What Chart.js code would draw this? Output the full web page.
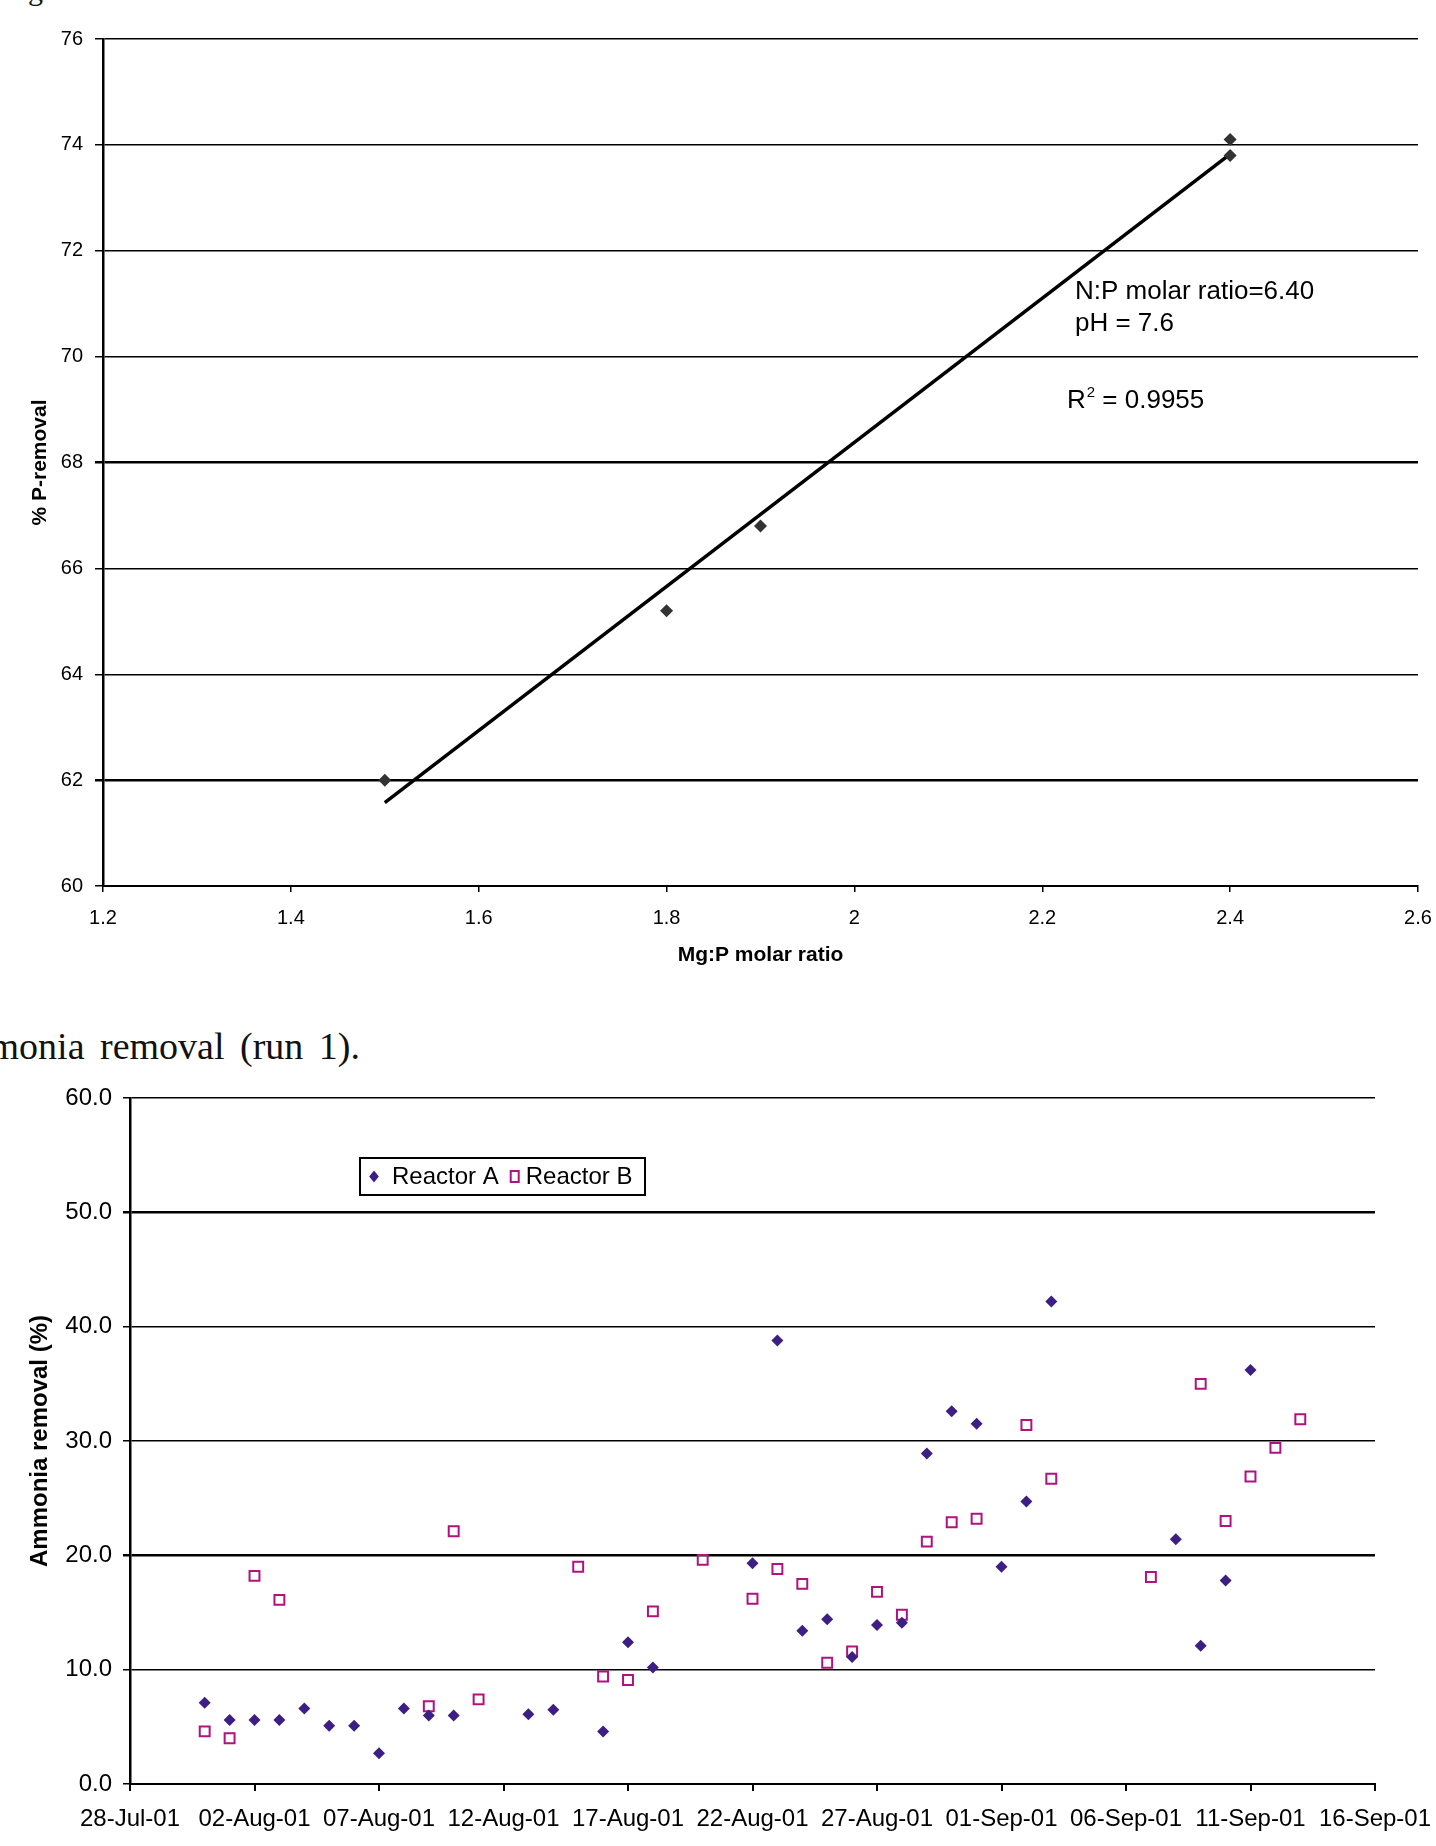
<!DOCTYPE html>
<html>
<head>
<meta charset="utf-8">
<script src="https://cdn.jsdelivr.net/npm/chart.js@4.4.0/dist/chart.umd.min.js"></script>
<style>
  html, body { margin: 0; padding: 0; background: #fff; }
  body { width: 1436px; height: 1846px; position: relative; overflow: hidden; }
  #wrapTop { position: absolute; left: 0; top: 0; width: 1436px; height: 1000px; }
  #wrapBottom { position: absolute; left: 0; top: 1070px; width: 1436px; height: 776px; }
  .caption { position: absolute; font-family: 'Liberation Serif', 'Times New Roman', serif; white-space: nowrap; color: #111; }
</style>
</head>
<body>
<div class="caption" style="left:3px; top:-25px; font-size:30px; line-height:30px;">Fig</div>
<div class="caption" style="right:1076px; top:1027px; font-size:38px; line-height:38px; word-spacing:6px;">Ammonia removal (run 1).</div>
<div id="wrapTop"><canvas id="topChart" width="1436" height="1000"></canvas></div>
<div id="wrapBottom"><canvas id="bottomChart" width="1436" height="776"></canvas></div>
<script>
// --- top chart data: P-removal vs Mg:P molar ratio
const mgRatio = [1.5, 1.8, 1.9, 2.4, 2.4];
const pRemoval = [62.0, 65.2, 66.8, 74.1, 73.8];
const noteLines = ['N:P molar ratio=6.40', 'pH = 7.6'];
const rSquared = '0.9955';

// --- bottom chart data: ammonia removal (run 1)
const datesA = ['2001-07-31', '2001-08-01', '2001-08-02', '2001-08-03', '2001-08-04', '2001-08-05',
  '2001-08-06', '2001-08-07', '2001-08-08', '2001-08-09', '2001-08-10', '2001-08-13', '2001-08-14',
  '2001-08-16', '2001-08-17', '2001-08-18', '2001-08-22', '2001-08-23', '2001-08-24', '2001-08-25',
  '2001-08-26', '2001-08-27', '2001-08-28', '2001-08-29', '2001-08-30', '2001-08-31', '2001-09-01',
  '2001-09-02', '2001-09-03', '2001-09-08', '2001-09-09', '2001-09-10', '2001-09-11'];
const reactorA = [7.1, 5.6, 5.6, 5.6, 6.6, 5.1, 5.1, 2.7, 6.6, 6.0, 6.0, 6.1, 6.5,
  4.6, 12.4, 10.2, 19.3, 38.8, 13.4, 14.4, 11.1, 13.9, 14.1, 28.9, 32.6, 31.5, 19.0,
  24.7, 42.2, 21.4, 12.1, 17.8, 36.2];
const datesB = ['2001-07-31', '2001-08-01', '2001-08-02', '2001-08-03', '2001-08-09', '2001-08-10',
  '2001-08-11', '2001-08-15', '2001-08-16', '2001-08-17', '2001-08-18', '2001-08-20', '2001-08-22',
  '2001-08-23', '2001-08-24', '2001-08-25', '2001-08-26', '2001-08-27', '2001-08-28', '2001-08-29',
  '2001-08-30', '2001-08-31', '2001-09-02', '2001-09-03', '2001-09-07', '2001-09-09', '2001-09-10',
  '2001-09-11', '2001-09-12', '2001-09-13'];
const reactorB = [4.6, 4.0, 18.2, 16.1, 6.8, 22.1, 7.4, 19.0, 9.4, 9.1, 15.1, 19.6, 16.2,
  18.8, 17.5, 10.6, 11.6, 16.8, 14.8, 21.2, 22.9, 23.2, 31.4, 26.7, 18.1, 35.0, 23.0,
  26.9, 29.4, 31.9];

const FONT = '"Liberation Sans", Arial, sans-serif';
Chart.defaults.font.family = FONT;
Chart.defaults.color = '#000';

// least squares trend line through the top chart points
function fitLine(xs, ys) {
  const n = xs.length;
  const mx = xs.reduce((a, b) => a + b, 0) / n;
  const my = ys.reduce((a, b) => a + b, 0) / n;
  let sxy = 0, sxx = 0;
  xs.forEach((x, i) => { sxy += (x - mx) * (ys[i] - my); sxx += (x - mx) * (x - mx); });
  const slope = sxy / sxx;
  return x => my + slope * (x - mx);
}
const trend = fitLine(mgRatio, pRemoval);
const xMin = Math.min(...mgRatio), xMax = Math.max(...mgRatio);

// keep the plot edges where the layout padding puts them
function fixX(height) {
  return s => { s.height = height; s.paddingLeft = 0; s.paddingRight = 0; };
}

const topNotes = {
  id: 'topNotes',
  afterDatasetsDraw(chart) {
    const ctx = chart.ctx;
    ctx.save();
    ctx.fillStyle = '#000';
    ctx.textBaseline = 'alphabetic';
    ctx.font = '26px ' + FONT;
    ctx.fillText(noteLines[0], 1075, 299);
    ctx.fillText(noteLines[1], 1075, 331);
    ctx.fillText('R', 1067, 408);
    let x = 1067 + ctx.measureText('R').width + 1;
    ctx.font = '15px ' + FONT;
    ctx.fillText('2', x, 397);
    x += ctx.measureText('2').width;
    ctx.font = '26px ' + FONT;
    ctx.fillText(' = ' + rSquared, x, 408);
    ctx.restore();
  }
};

new Chart(document.getElementById('topChart'), {
  type: 'scatter',
  data: {
    datasets: [{
      label: 'P-removal',
      data: mgRatio.map((x, i) => ({ x: x, y: pRemoval[i] })),
      pointStyle: 'rectRot',
      pointRadius: 6.5,
      backgroundColor: '#333',
      borderColor: '#333',
      borderWidth: 0
    }, {
      type: 'line',
      label: 'Linear',
      data: [{ x: xMin, y: trend(xMin) }, { x: xMax, y: trend(xMax) }],
      borderColor: '#000',
      borderWidth: 3.5,
      pointRadius: 0,
      fill: false
    }]
  },
  options: {
    responsive: false,
    animation: false,
    events: [],
    layout: { padding: { left: 0, top: 39, right: 18, bottom: 0 } },
    plugins: { legend: { display: false }, tooltip: { enabled: false } },
    scales: {
      x: {
        type: 'linear',
        min: 1.2, max: 2.6,
        afterFit: fixX(114),
        ticks: { stepSize: 0.2, padding: 14, font: { size: 20 }, callback: v => String(+v.toFixed(1)) },
        grid: { drawOnChartArea: false, tickLength: 6, color: '#000', lineWidth: 1.5 },
        border: { color: '#000', width: 2 },
        title: { display: true, text: 'Mg:P molar ratio', font: { size: 21, weight: 'bold' }, padding: { top: 0, bottom: 32 } }
      },
      y: {
        min: 60, max: 76,
        afterFit: s => { s.width = 103; },
        ticks: { stepSize: 2, padding: 12, font: { size: 20 } },
        grid: {
          color: '#000', tickLength: 8,
          lineWidth: c => (c.tick && (c.tick.value === 62 || c.tick.value === 68)) ? 2.5 : 1.5
        },
        border: { color: '#000', width: 2.5 },
        title: { display: true, text: '% P-removal', font: { size: 21, weight: 'bold' }, padding: { top: 28, bottom: 0 } }
      }
    }
  },
  plugins: [topNotes]
});

// --- bottom chart
const START = Date.UTC(2001, 6, 28);
const DAY = 86400000;
const MONTHS = ['Jan', 'Feb', 'Mar', 'Apr', 'May', 'Jun', 'Jul', 'Aug', 'Sep', 'Oct', 'Nov', 'Dec'];
function dayOf(s) {
  const [y, m, d] = s.split('-').map(Number);
  return (Date.UTC(y, m - 1, d) - START) / DAY;
}
function dayLabel(v) {
  const d = new Date(START + v * DAY);
  const dd = String(d.getUTCDate()).padStart(2, '0');
  const yy = String(d.getUTCFullYear() % 100).padStart(2, '0');
  return dd + '-' + MONTHS[d.getUTCMonth()] + '-' + yy;
}

const legendBox = {
  id: 'legendBox',
  afterDraw(chart) {
    const { ctx, chartArea } = chart;
    const left = chartArea.left + 230, top = chartArea.top + 60, w = 285, h = 37;
    ctx.save();
    ctx.fillStyle = '#fff';
    ctx.fillRect(left, top, w, h);
    ctx.strokeStyle = '#000';
    ctx.lineWidth = 2;
    ctx.strokeRect(left, top, w, h);
    ctx.font = '24px ' + FONT;
    ctx.textBaseline = 'middle';
    const y = top + h / 2;
    let x = left + 14;
    chart.data.datasets.forEach(ds => {
      ctx.beginPath();
      if (ds.pointStyle === 'rectRot') {
        const r = 6;
        ctx.moveTo(x, y - r); ctx.lineTo(x + r * 0.8, y); ctx.lineTo(x, y + r); ctx.lineTo(x - r * 0.8, y);
        ctx.closePath();
        ctx.fillStyle = ds.borderColor;
        ctx.fill();
      } else {
        ctx.rect(x - 4, y - 5.5, 8, 11);
        ctx.strokeStyle = ds.borderColor;
        ctx.lineWidth = 2;
        ctx.stroke();
      }
      ctx.fillStyle = '#000';
      const tx = x + (ds.pointStyle === 'rectRot' ? 18 : 11);
      ctx.fillText(ds.label, tx, y + 1);
      x = tx + ctx.measureText(ds.label).width + 16;
    });
    ctx.restore();
  }
};

new Chart(document.getElementById('bottomChart'), {
  type: 'scatter',
  data: {
    datasets: [{
      label: 'Reactor A',
      data: datesA.map((d, i) => ({ x: dayOf(d), y: reactorA[i] })),
      pointStyle: 'rectRot',
      pointRadius: 6,
      backgroundColor: '#3d1f84',
      borderColor: '#3d1f84',
      borderWidth: 0
    }, {
      label: 'Reactor B',
      data: datesB.map((d, i) => ({ x: dayOf(d), y: reactorB[i] })),
      pointStyle: 'rect',
      pointRadius: 7,
      backgroundColor: 'rgba(0,0,0,0)',
      borderColor: '#b0127f',
      borderWidth: 2
    }]
  },
  options: {
    responsive: false,
    animation: false,
    events: [],
    layout: { padding: { left: 0, top: 28, right: 61, bottom: 0 } },
    plugins: { legend: { display: false }, tooltip: { enabled: false } },
    scales: {
      x: {
        type: 'linear',
        min: 0, max: 50,
        afterFit: fixX(62),
        ticks: { stepSize: 5, padding: 14, font: { size: 24 }, maxRotation: 0, autoSkip: false, callback: v => dayLabel(v) },
        grid: { drawOnChartArea: false, tickLength: 7, color: '#000', lineWidth: 2 },
        border: { color: '#000', width: 2 }
      },
      y: {
        min: 0, max: 60,
        afterFit: s => { s.width = 130; },
        ticks: { stepSize: 10, padding: 11, font: { size: 24 }, callback: v => v.toFixed(1) },
        grid: {
          color: '#000', tickLength: 7,
          lineWidth: c => (c.tick && (c.tick.value === 20 || c.tick.value === 50)) ? 2.5 : 1.5
        },
        border: { color: '#000', width: 2.5 },
        title: { display: true, text: 'Ammonia removal (%)', font: { size: 24, weight: 'bold' }, padding: { top: 26, bottom: 0 } }
      }
    }
  },
  plugins: [legendBox]
});
</script>
</body>
</html>
